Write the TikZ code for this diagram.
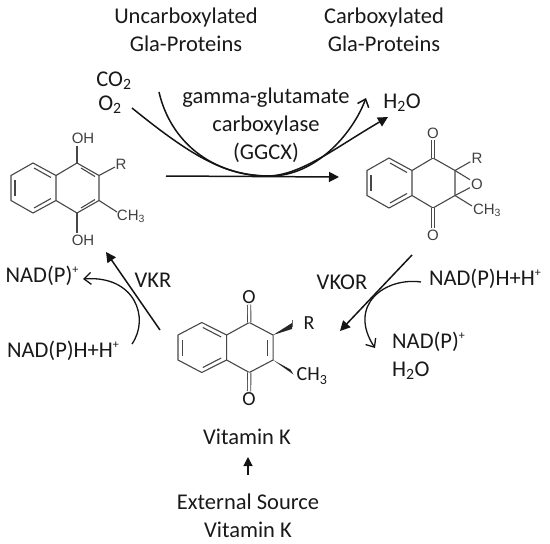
\documentclass[tikz,border=0pt]{standalone}
\usepackage{fontspec}
\setmainfont{Carlito}
\newfontfamily\chemfont{Liberation Sans}
\usetikzlibrary{arrows.meta,calc}

% small raised plus
\newcommand{\plusmark}{\raisebox{.42em}{\fontsize{12}{12}\selectfont +}}

% ring skeleton: two fused six-rings, left ring double bonds included
\newcommand{\skeleton}[1]{
  \coordinate (#1a) at (22,0);
  \coordinate (#1b) at (0,12.5);
  \coordinate (#1c) at (0,37.5);
  \coordinate (#1d) at (22,50);
  \coordinate (#1e) at (45,37.5);
  \coordinate (#1f) at (45,12.5);
  \coordinate (#1g) at (66,0);
  \coordinate (#1h) at (88,12.5);
  \coordinate (#1i) at (88,37.5);
  \coordinate (#1j) at (66,50);
  \draw[bond] (#1a) -- (#1b) -- (#1c) -- (#1d) -- (#1e) -- (#1f) -- cycle;
  \draw[bond] (#1f) -- (#1g) -- (#1h) -- (#1i) -- (#1j) -- (#1e);
  \draw[bond] (4,17) -- (4,33);
  \draw[bond] (23,5) -- (40,14.5);
  \draw[bond] (23,45) -- (40,35.5);
}

\begin{document}
\begin{tikzpicture}[
    x=1pt, y=-1pt,
    font=\fontsize{22.5}{25}\selectfont,
    every node/.style={text=black!90},
    bond/.style={draw=black!72, line width=1.1pt},
    dbond/.style={draw=black!72, line width=.9pt, double, double distance=2.4pt},
    atom/.style={font=\fontsize{15}{18}\selectfont\chemfont, inner sep=1pt, text=black!75},
    bigatom/.style={font=\fontsize{20}{24}\selectfont, inner sep=1pt},
    label/.style={align=center, inner sep=0pt},
    line/.style={line width=1.5pt, draw=black!92},
    solid tip/.style={line, -{Triangle[length=10pt,width=10pt]}},
    open tip/.style={line, -{Straight Barb[length=7pt,width=12pt]}},
    thin tip/.style={line, line width=1.3pt, -{Straight Barb[length=7pt,width=12pt]}}
  ]
  \useasboundingbox (0,0) rectangle (550,544);

  % top labels
  \node[label] (uncarb) at (186,29.5) {Uncarboxylated\\[3pt]Gla-Proteins};
  \node[label] (carb) at (384,29.5) {Carboxylated\\[3pt]Gla-Proteins};
  \node[label] (ggcx) at (266,125.5) {gamma-glutamate\\[3pt]carboxylase\\[3pt](GGCX)};
  \node[label] (co) at (114,81) {CO\textsubscript{2}};
  \node[label] (oo) at (110,105) {O\textsubscript{2}};
  \node[label] (wtop) at (402,103) {H\textsubscript{2}O};

  % hydroquinone
  \begin{scope}[shift={(11,163)}]
    \skeleton{q}
    \draw[bond] (70,5) -- (84,13.5);
    \draw[bond] (70,45) -- (84,36.5);
  \end{scope}
  \node[atom] (qoh) at (83,138) {OH};
  \node[atom] (qho) at (83,240) {OH};
  \node[atom] (qr) at (121,164) {R};
  \node[atom] (qme) at (131,216) {CH\textsubscript{3}};
  \draw[bond] (qg) -- (77,146);
  \draw[bond] (qj) -- (77,233);
  \draw[bond] (qh) -- (115,167);
  \draw[bond] (qi) -- (117,212);

  % epoxide
  \begin{scope}[shift={(367,158)}]
    \skeleton{e}
  \end{scope}
  \node[atom] (eo) at (433,133) {O};
  \node[atom] (eu) at (433,235) {O};
  \node[atom] (er) at (477,158) {R};
  \node[atom] (ex) at (477,184) {O};
  \node[atom] (eme) at (487,210) {CH\textsubscript{3}};
  \draw[dbond] (eg) -- (eo);
  \draw[dbond] (ej) -- (eu);
  \draw[bond] (eh) -- (er);
  \draw[bond] (eh) -- (ex);
  \draw[bond] (ei) -- (ex);
  \draw[bond] (ei) -- (472,206);

  % quinone
  \begin{scope}[shift={(178,322.5)}, xscale=1.08]
    \skeleton{k}
    \draw[bond] (83,17) -- (83,33);
  \end{scope}
  \node[bigatom] (ko) at (249,297) {O};
  \node[bigatom] (ku) at (249,399) {O};
  \node[bigatom] (kr) at (309,323) {R};
  \node[bigatom] (kme) at (312,376) {CH\textsubscript{3}};
  \draw[dbond] (kg) -- (ko);
  \draw[dbond] (kj) -- (ku);
  \coordinate (ktick) at (292,327);
  \fill[black!85] (kh) -- (292,323) -- (292,329) -- cycle;
  \fill[black!85] (ki) -- (290.5,369.5) -- (293.5,374.5) -- cycle;
  \draw[line width=.9pt, draw=black!60] (292,320) -- (ktick);

  % enzyme arrows at the top
  \coordinate (mainstart) at (166,176);
  \coordinate (mainend) at (339,177);
  \coordinate (gasstart) at (132,108);
  \coordinate (gasend) at (388,117);
  \coordinate (protstart) at (159,92);
  \coordinate (protend) at (366,98);
  \draw[solid tip] (mainstart) -- (mainend);
  \draw[solid tip] (gasstart) .. controls (190,155) and (225,176) .. (267,176)
    .. controls (300,176) and (335,148) .. (gasend);
  \draw[open tip] (protstart) .. controls (170,140) and (210,176) .. (270,176)
    .. controls (315,176) and (352,135) .. (protend);

  % VKR side
  \node[label] (vkr) at (153,280) {VKR};
  \node[label] (nadl) at (42,276) {NAD(P)\plusmark};
  \node[label] (nadhl) at (63,351) {NAD(P)H+H\plusmark};
  \coordinate (vkrstart) at (160,330);
  \coordinate (vkrend) at (106,252);
  \coordinate (cofstart) at (132,344);
  \coordinate (cofend) at (83,279);
  \draw[solid tip] (vkrstart) -- (vkrend);
  \draw[thin tip] (cofstart) .. controls (150,318) and (135,275) .. (cofend);

  % VKOR side
  \node[label] (vkor) at (342,282) {VKOR};
  \node[label] (nadhr) at (485,279) {NAD(P)H+H\plusmark};
  \node[label, anchor=west] (nadr) at (392,342) {NAD(P)\plusmark};
  \node[label, anchor=west] (wbot) at (392,371) {H\textsubscript{2}O};
  \coordinate (vkorstart) at (412,255);
  \coordinate (vkorend) at (340,331);
  \coordinate (cosstart) at (421,282);
  \coordinate (cosend) at (375,348);
  \draw[solid tip] (vkorstart) -- (vkorend);
  \draw[thin tip] (cosstart) .. controls (385,277) and (347,305) .. (cosend);

  % source of vitamin K
  \node[label] (vitk) at (247,437) {Vitamin K};
  \node[label] (extern) at (248,516) {External Source\\[3pt]Vitamin K};
  \coordinate (srcstart) at (248,475);
  \coordinate (srcend) at (248,457);
  \draw[line, line width=1.2pt, -{Triangle[length=9pt,width=9pt]}] (srcstart) -- (srcend);
\end{tikzpicture}
\end{document}
